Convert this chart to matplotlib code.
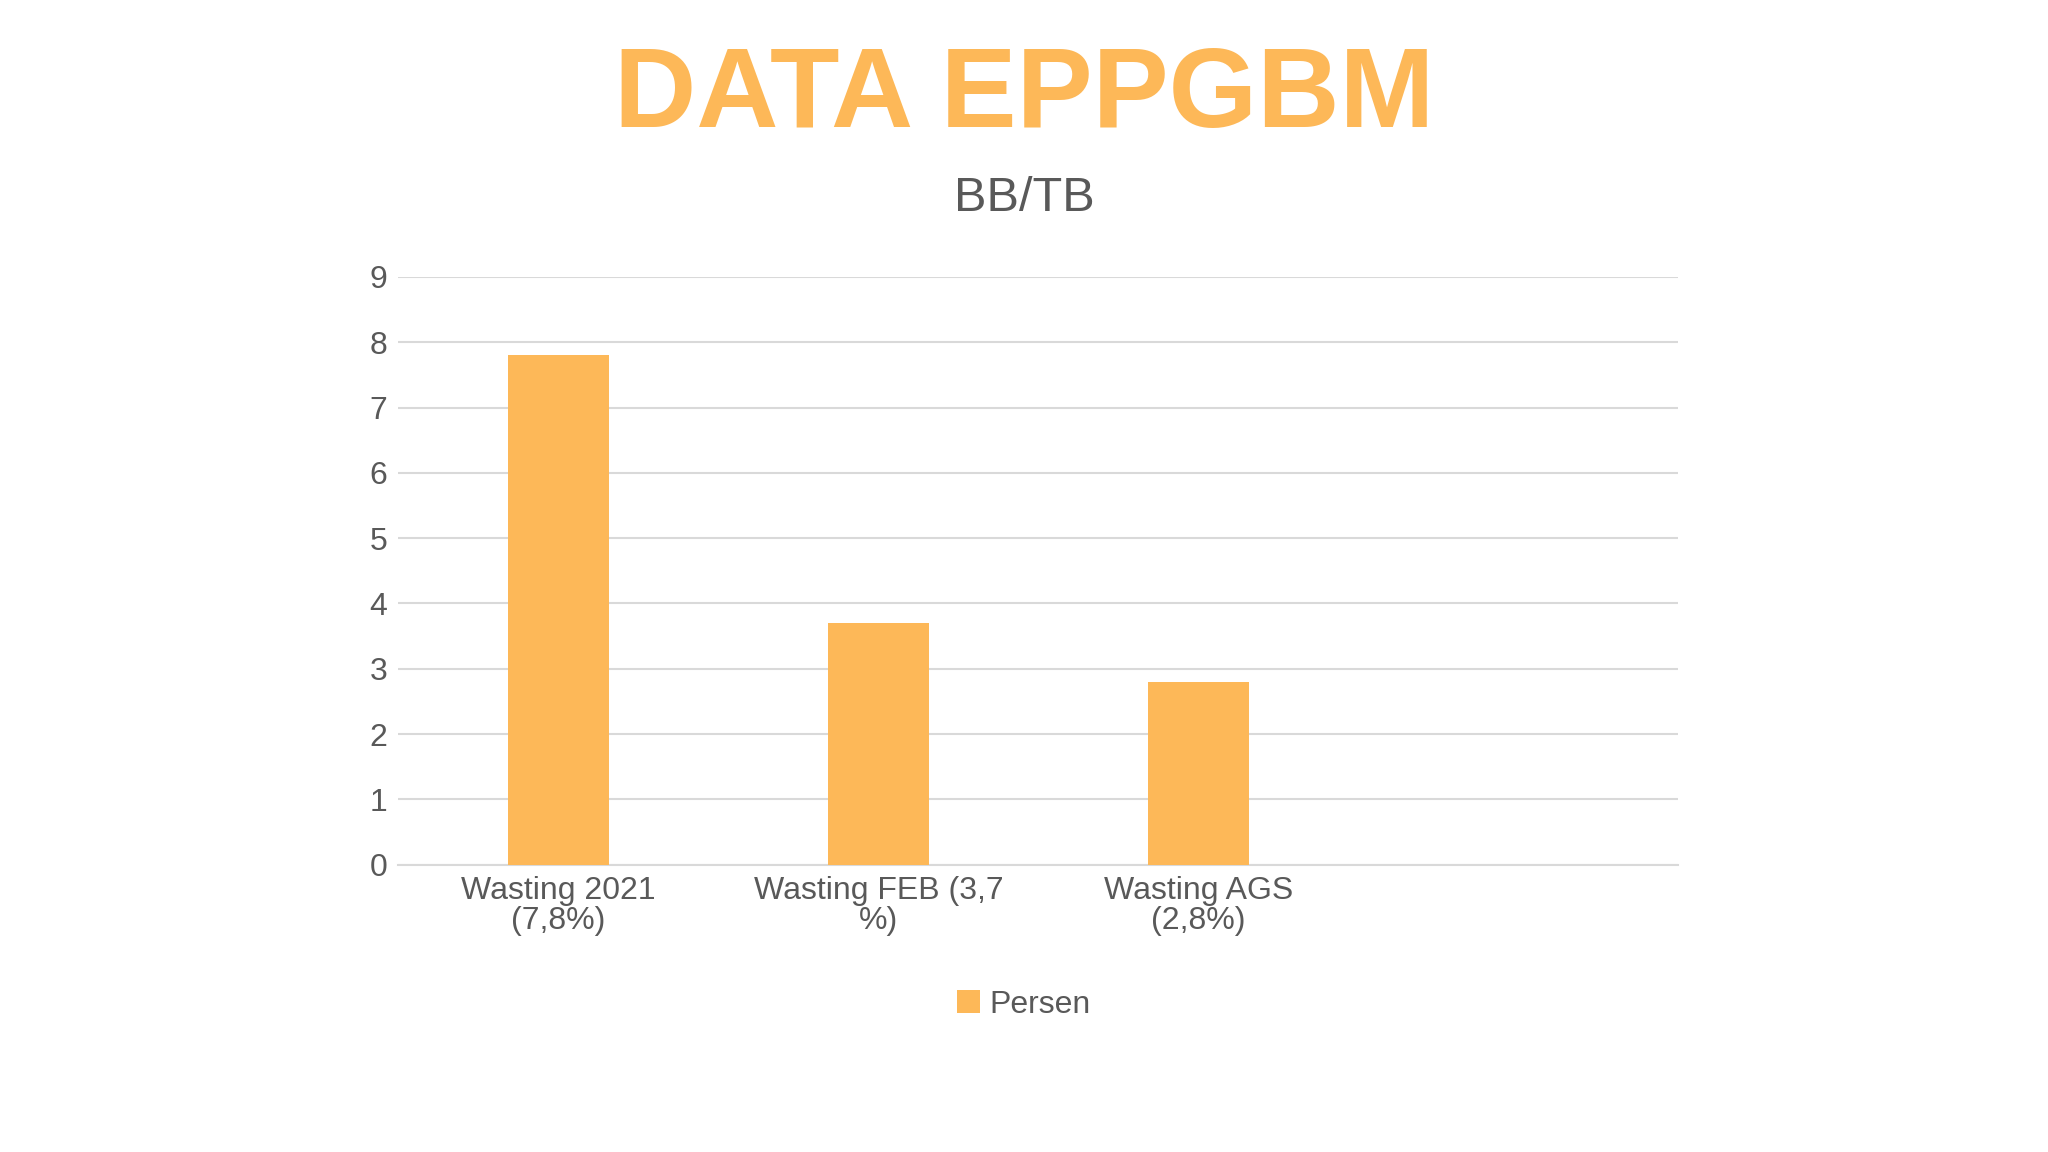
import matplotlib
matplotlib.use("Agg")
import matplotlib.pyplot as plt

categories = ["Wasting 2021\n(7,8%)", "Wasting FEB (3,7\n%)", "Wasting AGS\n(2,8%)", ""]
values = [7.8, 3.7, 2.8, None]
yticks = list(range(0, 10))

plt.rcParams['font.family'] = ['Liberation Sans', 'DejaVu Sans']
orange = "#FDB858"
gray = "#595959"

fig = plt.figure(figsize=(20.48, 11.52), dpi=100)
ax = fig.add_axes([0.1945, 0.2494, 0.625, 0.5102])
xs = list(range(len(categories)))
bx = [x for x, v in zip(xs, values) if v is not None]
bv = [v for v in values if v is not None]
ax.bar(bx, bv, width=0.315, color=orange, zorder=3, label="Persen")
ax.set_xlim(-0.5, len(categories) - 0.5)
ax.set_ylim(0, 9)
ax.set_yticks(yticks)
ax.set_xticks(xs)
ax.set_xticklabels(categories, fontsize=23, color=gray, linespacing=1.0)
ax.tick_params(axis='y', labelsize=23, labelcolor=gray, length=0, pad=8)
ax.tick_params(axis='x', length=0, pad=8)
ax.grid(axis='y', color="#D9D9D9", linewidth=1.5, zorder=0)
for s in ["top", "right", "left"]:
    ax.spines[s].set_visible(False)
ax.spines["bottom"].set_color("#D9D9D9")
ax.spines["bottom"].set_linewidth(1.5)

fig.text(0.5, 0.915, "DATA EPPGBM", ha="center", va="center", fontsize=82,
         fontweight="bold", color=orange)
fig.text(0.5, 0.828, "BB/TB", ha="center", va="center", fontsize=35, color=gray)
fig.legend(loc="center", bbox_to_anchor=(0.5, 0.128), frameon=False, fontsize=23,
           labelcolor=gray, handlelength=0.7, handleheight=0.7, handletextpad=0.3)
fig.savefig("out.png", dpi=100)
